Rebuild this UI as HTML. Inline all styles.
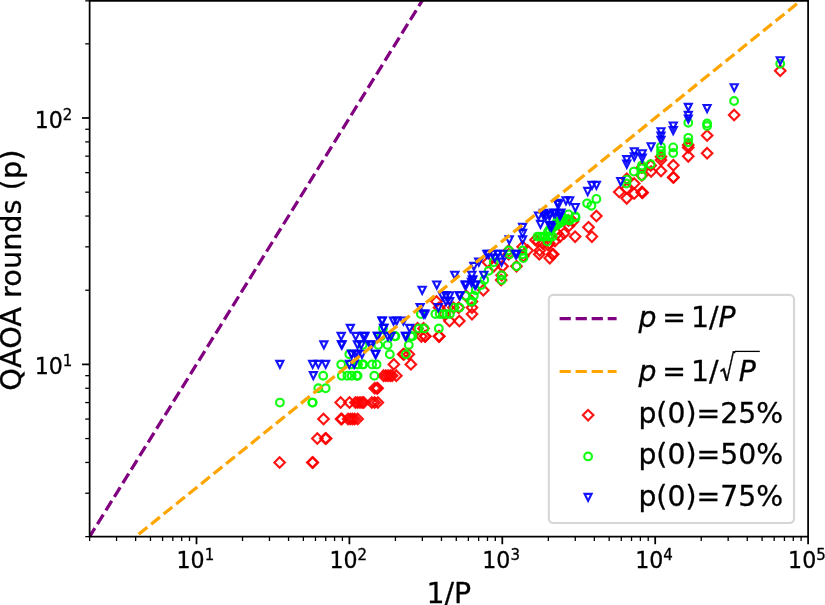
<!DOCTYPE html><html><head><meta charset="utf-8"><title>QAOA rounds vs 1/P</title>
<style>html,body{margin:0;padding:0;background:#fff;overflow:hidden}svg{display:block}text{font-family:"DejaVu Sans","Liberation Sans",sans-serif;fill:#000;stroke:#000;stroke-width:0.3px}.it{font-style:oblique}</style></head><body>
<svg width="825" height="605" viewBox="0 0 825 605">
<rect width="825" height="605" fill="#fff"/>
<defs><clipPath id="ax"><rect x="89.63" y="0.85" width="718.47" height="535.78"/></clipPath></defs>
<g clip-path="url(#ax)">
<g fill="none" stroke="#ff0000" stroke-opacity="0.92" stroke-width="2.15" stroke-linejoin="miter"><path d="M279.6 457.2L284.9 462.5L279.6 467.7L274.4 462.5Z"/><path d="M312.3 457.2L317.6 462.5L312.3 467.7L307.1 462.5Z"/><path d="M312.9 457.2L318.1 462.5L312.9 467.7L307.6 462.5Z"/><path d="M317.3 433.3L322.6 438.6L317.3 443.8L312.1 438.6Z"/><path d="M325.3 433.3L330.6 438.6L325.3 443.8L320.1 438.6Z"/><path d="M326.1 433.3L331.4 438.6L326.1 443.8L320.9 438.6Z"/><path d="M323.5 413.8L328.8 419.1L323.5 424.3L318.2 419.1Z"/><path d="M341.0 413.8L346.2 419.1L341.0 424.3L335.8 419.1Z"/><path d="M341.8 413.8L347.1 419.1L341.8 424.3L336.6 419.1Z"/><path d="M348.0 413.8L353.2 419.1L348.0 424.3L342.8 419.1Z"/><path d="M350.3 413.8L355.6 419.1L350.3 424.3L345.1 419.1Z"/><path d="M352.5 413.8L357.8 419.1L352.5 424.3L347.2 419.1Z"/><path d="M354.7 413.8L359.9 419.1L354.7 424.3L349.4 419.1Z"/><path d="M357.7 413.8L362.9 419.1L357.7 424.3L352.4 419.1Z"/><path d="M340.6 397.3L345.9 402.6L340.6 407.8L335.4 402.6Z"/><path d="M349.5 397.3L354.8 402.6L349.5 407.8L344.2 402.6Z"/><path d="M355.5 397.3L360.8 402.6L355.5 407.8L350.2 402.6Z"/><path d="M357.7 397.3L362.9 402.6L357.7 407.8L352.4 402.6Z"/><path d="M360.0 397.3L365.2 402.6L360.0 407.8L354.8 402.6Z"/><path d="M362.2 397.3L367.4 402.6L362.2 407.8L356.9 402.6Z"/><path d="M363.7 397.3L368.9 402.6L363.7 407.8L358.4 402.6Z"/><path d="M371.8 397.3L377.1 402.6L371.8 407.8L366.6 402.6Z"/><path d="M374.6 397.3L379.9 402.6L374.6 407.8L369.4 402.6Z"/><path d="M377.8 397.3L383.1 402.6L377.8 407.8L372.6 402.6Z"/><path d="M374.7 383.0L379.9 388.3L374.7 393.5L369.4 388.3Z"/><path d="M377.0 383.0L382.2 388.3L377.0 393.5L371.8 388.3Z"/><path d="M377.6 383.0L382.9 388.3L377.6 393.5L372.4 388.3Z"/><path d="M383.6 370.4L388.9 375.7L383.6 380.9L378.4 375.7Z"/><path d="M385.9 370.4L391.1 375.7L385.9 380.9L380.6 375.7Z"/><path d="M388.1 370.4L393.4 375.7L388.1 380.9L382.9 375.7Z"/><path d="M390.3 370.4L395.6 375.7L390.3 380.9L385.1 375.7Z"/><path d="M392.2 370.4L397.4 375.7L392.2 380.9L386.9 375.7Z"/><path d="M396.3 370.4L401.6 375.7L396.3 380.9L391.1 375.7Z"/><path d="M393.8 359.1L399.1 364.4L393.8 369.6L388.6 364.4Z"/><path d="M410.9 359.1L416.1 364.4L410.9 369.6L405.6 364.4Z"/><path d="M403.2 349.0L408.4 354.2L403.2 359.5L397.9 354.2Z"/><path d="M404.0 349.0L409.2 354.2L404.0 359.5L398.8 354.2Z"/><path d="M408.8 349.0L414.1 354.2L408.8 359.5L403.6 354.2Z"/><path d="M421.4 331.1L426.6 336.3L421.4 341.6L416.1 336.3Z"/><path d="M425.0 331.1L430.2 336.3L425.0 341.6L419.8 336.3Z"/><path d="M425.3 331.1L430.6 336.3L425.3 341.6L420.1 336.3Z"/><path d="M438.9 331.1L444.1 336.3L438.9 341.6L433.6 336.3Z"/><path d="M439.3 331.1L444.6 336.3L439.3 341.6L434.1 336.3Z"/><path d="M417.5 323.1L422.8 328.4L417.5 333.6L412.2 328.4Z"/><path d="M423.5 323.1L428.8 328.4L423.5 333.6L418.2 328.4Z"/><path d="M449.5 315.8L454.8 321.0L449.5 326.3L444.2 321.0Z"/><path d="M459.3 315.8L464.6 321.0L459.3 326.3L454.1 321.0Z"/><path d="M444.3 308.9L449.6 314.1L444.3 319.4L439.1 314.1Z"/><path d="M472.0 308.9L477.2 314.1L472.0 319.4L466.8 314.1Z"/><path d="M439.0 302.4L444.2 307.6L439.0 312.9L433.8 307.6Z"/><path d="M448.3 302.4L453.6 307.6L448.3 312.9L443.1 307.6Z"/><path d="M453.5 302.4L458.8 307.6L453.5 312.9L448.2 307.6Z"/><path d="M458.7 302.4L463.9 307.6L458.7 312.9L453.4 307.6Z"/><path d="M472.0 302.4L477.2 307.6L472.0 312.9L466.8 307.6Z"/><path d="M436.5 296.3L441.8 301.5L436.5 306.8L431.2 301.5Z"/><path d="M472.0 296.3L477.2 301.5L472.0 306.8L466.8 301.5Z"/><path d="M466.0 290.5L471.2 295.7L466.0 301.0L460.8 295.7Z"/><path d="M483.3 285.0L488.6 290.2L483.3 295.5L478.1 290.2Z"/><path d="M501.1 274.8L506.4 280.0L501.1 285.3L495.9 280.0Z"/><path d="M501.6 270.0L506.9 275.3L501.6 280.5L496.4 275.3Z"/><path d="M487.8 256.9L493.1 262.2L487.8 267.4L482.6 262.2Z"/><path d="M493.7 261.1L498.9 266.3L493.7 271.6L488.4 266.3Z"/><path d="M502.6 261.1L507.9 266.3L502.6 271.6L497.4 266.3Z"/><path d="M516.5 261.1L521.8 266.3L516.5 271.6L511.2 266.3Z"/><path d="M523.4 250.9L528.6 256.1L523.4 261.4L518.1 256.1Z"/><path d="M539.3 249.0L544.5 254.2L539.3 259.5L534.0 254.2Z"/><path d="M508.7 249.0L514.0 254.2L508.7 259.5L503.4 254.2Z"/><path d="M508.7 245.2L514.0 250.5L508.7 255.7L503.4 250.5Z"/><path d="M522.6 241.6L527.9 246.8L522.6 252.1L517.4 246.8Z"/><path d="M527.6 245.2L532.9 250.5L527.6 255.7L522.4 250.5Z"/><path d="M539.7 245.2L545.0 250.5L539.7 255.7L534.5 250.5Z"/><path d="M549.8 252.9L555.0 258.1L549.8 263.4L544.5 258.1Z"/><path d="M552.3 249.0L557.5 254.2L552.3 259.5L547.0 254.2Z"/><path d="M553.3 249.0L558.5 254.2L553.3 259.5L548.0 254.2Z"/><path d="M549.4 238.1L554.6 243.3L549.4 248.6L544.1 243.3Z"/><path d="M535.5 234.7L540.8 239.9L535.5 245.2L530.2 239.9Z"/><path d="M557.3 228.2L562.5 233.4L557.3 238.7L552.0 233.4Z"/><path d="M538.0 236.4L543.2 241.6L538.0 246.9L532.8 241.6Z"/><path d="M543.0 238.1L548.2 243.3L543.0 248.6L537.8 243.3Z"/><path d="M548.0 239.8L553.2 245.1L548.0 250.3L542.8 245.1Z"/><path d="M555.0 235.7L560.2 240.9L555.0 246.2L549.8 240.9Z"/><path d="M560.0 231.4L565.2 236.6L560.0 241.9L554.8 236.6Z"/><path d="M564.0 228.2L569.2 233.4L564.0 238.7L558.8 233.4Z"/><path d="M569.0 220.6L574.2 225.9L569.0 231.1L563.8 225.9Z"/><path d="M573.0 216.3L578.2 221.5L573.0 226.8L567.8 221.5Z"/><path d="M575.1 231.4L580.4 236.6L575.1 241.9L569.9 236.6Z"/><path d="M588.5 222.1L593.8 227.3L588.5 232.6L583.2 227.3Z"/><path d="M591.9 231.4L597.1 236.6L591.9 241.9L586.6 236.6Z"/><path d="M596.4 210.8L601.6 216.1L596.4 221.3L591.1 216.1Z"/><path d="M641.9 186.8L647.1 192.0L641.9 197.2L636.6 192.0Z"/><path d="M642.2 187.2L647.5 192.4L642.2 197.7L637.0 192.4Z"/><path d="M642.5 187.4L647.8 192.7L642.5 197.9L637.2 192.7Z"/><path d="M641.8 162.2L647.0 167.4L641.8 172.7L636.5 167.4Z"/><path d="M641.8 170.3L647.0 175.6L641.8 180.8L636.5 175.6Z"/><path d="M650.7 160.3L656.0 165.6L650.7 170.8L645.5 165.6Z"/><path d="M568.5 215.3L573.8 220.6L568.5 225.8L563.2 220.6Z"/><path d="M619.3 186.8L624.5 192.1L619.3 197.3L614.0 192.1Z"/><path d="M626.7 193.1L632.0 198.3L626.7 203.6L621.5 198.3Z"/><path d="M626.7 183.2L632.0 188.4L626.7 193.7L621.5 188.4Z"/><path d="M634.2 178.2L639.5 183.5L634.2 188.8L629.0 183.5Z"/><path d="M634.2 188.2L639.5 193.4L634.2 198.7L629.0 193.4Z"/><path d="M651.1 166.3L656.4 171.6L651.1 176.8L645.9 171.6Z"/><path d="M661.0 151.6L666.2 156.8L661.0 162.1L655.8 156.8Z"/><path d="M661.0 154.8L666.2 160.0L661.0 165.2L655.8 160.0Z"/><path d="M661.0 165.8L666.2 171.1L661.0 176.3L655.8 171.1Z"/><path d="M673.4 159.9L678.6 165.2L673.4 170.4L668.1 165.2Z"/><path d="M673.4 172.3L678.6 177.6L673.4 182.8L668.1 177.6Z"/><path d="M673.4 171.9L678.6 177.2L673.4 182.4L668.1 177.2Z"/><path d="M626.8 173.6L632.0 178.8L626.8 184.1L621.5 178.8Z"/><path d="M688.3 139.8L693.5 145.1L688.3 150.3L683.0 145.1Z"/><path d="M688.3 142.3L693.5 147.6L688.3 152.8L683.0 147.6Z"/><path d="M688.3 151.1L693.5 156.3L688.3 161.6L683.0 156.3Z"/><path d="M707.1 130.3L712.4 135.6L707.1 140.8L701.9 135.6Z"/><path d="M707.1 147.9L712.4 153.2L707.1 158.4L701.9 153.2Z"/><path d="M734.1 109.8L739.4 115.0L734.1 120.2L728.9 115.0Z"/><path d="M780.2 65.5L785.5 70.8L780.2 76.0L775.0 70.8Z"/></g>
<g fill="none" stroke="#00ff00" stroke-opacity="0.92" stroke-width="2.15" stroke-linejoin="miter"><circle cx="312.3" cy="402.6" r="3.85"/><circle cx="540.0" cy="236.6" r="3.85"/><circle cx="545.0" cy="236.6" r="3.85"/><circle cx="550.0" cy="236.6" r="3.85"/><circle cx="378.3" cy="344.9" r="3.85"/><circle cx="362.7" cy="344.9" r="3.85"/><circle cx="279.9" cy="402.6" r="3.85"/><circle cx="312.7" cy="402.6" r="3.85"/><circle cx="318.3" cy="388.3" r="3.85"/><circle cx="325.7" cy="388.3" r="3.85"/><circle cx="323.2" cy="375.7" r="3.85"/><circle cx="341.8" cy="375.7" r="3.85"/><circle cx="347.4" cy="375.7" r="3.85"/><circle cx="351.7" cy="375.7" r="3.85"/><circle cx="356.7" cy="375.7" r="3.85"/><circle cx="341.2" cy="364.4" r="3.85"/><circle cx="351.0" cy="364.4" r="3.85"/><circle cx="357.0" cy="364.4" r="3.85"/><circle cx="362.5" cy="364.4" r="3.85"/><circle cx="358.0" cy="364.4" r="3.85"/><circle cx="363.2" cy="364.4" r="3.85"/><circle cx="372.1" cy="364.4" r="3.85"/><circle cx="376.6" cy="364.4" r="3.85"/><circle cx="357.6" cy="375.7" r="3.85"/><circle cx="374.3" cy="375.7" r="3.85"/><circle cx="349.3" cy="354.2" r="3.85"/><circle cx="389.8" cy="354.2" r="3.85"/><circle cx="405.8" cy="354.2" r="3.85"/><circle cx="387.6" cy="344.9" r="3.85"/><circle cx="408.8" cy="344.9" r="3.85"/><circle cx="394.7" cy="336.3" r="3.85"/><circle cx="412.5" cy="336.3" r="3.85"/><circle cx="381.0" cy="336.3" r="3.85"/><circle cx="395.4" cy="336.3" r="3.85"/><circle cx="410.8" cy="336.3" r="3.85"/><circle cx="418.8" cy="328.4" r="3.85"/><circle cx="424.4" cy="328.4" r="3.85"/><circle cx="438.8" cy="328.4" r="3.85"/><circle cx="383.0" cy="328.4" r="3.85"/><circle cx="420.8" cy="314.1" r="3.85"/><circle cx="435.4" cy="314.1" r="3.85"/><circle cx="439.7" cy="314.1" r="3.85"/><circle cx="443.0" cy="314.1" r="3.85"/><circle cx="446.4" cy="314.1" r="3.85"/><circle cx="449.9" cy="314.1" r="3.85"/><circle cx="454.2" cy="307.6" r="3.85"/><circle cx="459.5" cy="307.6" r="3.85"/><circle cx="472.0" cy="301.5" r="3.85"/><circle cx="465.4" cy="295.7" r="3.85"/><circle cx="473.8" cy="295.7" r="3.85"/><circle cx="475.8" cy="290.2" r="3.85"/><circle cx="470.9" cy="301.5" r="3.85"/><circle cx="481.3" cy="285.0" r="3.85"/><circle cx="484.3" cy="280.0" r="3.85"/><circle cx="488.7" cy="270.7" r="3.85"/><circle cx="493.7" cy="262.2" r="3.85"/><circle cx="501.6" cy="275.3" r="3.85"/><circle cx="501.6" cy="280.0" r="3.85"/><circle cx="516.5" cy="266.3" r="3.85"/><circle cx="523.4" cy="258.1" r="3.85"/><circle cx="509.6" cy="254.2" r="3.85"/><circle cx="508.7" cy="250.5" r="3.85"/><circle cx="522.6" cy="250.5" r="3.85"/><circle cx="522.6" cy="254.2" r="3.85"/><circle cx="537.5" cy="236.6" r="3.85"/><circle cx="542.5" cy="236.6" r="3.85"/><circle cx="548.0" cy="236.6" r="3.85"/><circle cx="552.6" cy="236.6" r="3.85"/><circle cx="547.4" cy="241.6" r="3.85"/><circle cx="555.8" cy="224.4" r="3.85"/><circle cx="559.7" cy="221.5" r="3.85"/><circle cx="568.7" cy="220.1" r="3.85"/><circle cx="575.6" cy="217.4" r="3.85"/><circle cx="557.0" cy="221.5" r="3.85"/><circle cx="549.6" cy="229.6" r="3.85"/><circle cx="552.0" cy="228.1" r="3.85"/><circle cx="554.4" cy="226.5" r="3.85"/><circle cx="557.0" cy="224.8" r="3.85"/><circle cx="559.2" cy="223.5" r="3.85"/><circle cx="561.2" cy="222.1" r="3.85"/><circle cx="563.7" cy="220.5" r="3.85"/><circle cx="566.7" cy="218.9" r="3.85"/><circle cx="548.0" cy="231.8" r="3.85"/><circle cx="587.1" cy="203.3" r="3.85"/><circle cx="591.4" cy="205.8" r="3.85"/><circle cx="596.4" cy="198.9" r="3.85"/><circle cx="575.3" cy="216.3" r="3.85"/><circle cx="568.5" cy="214.4" r="3.85"/><circle cx="569.7" cy="220.6" r="3.85"/><circle cx="627.0" cy="179.6" r="3.85"/><circle cx="626.4" cy="183.5" r="3.85"/><circle cx="633.8" cy="171.6" r="3.85"/><circle cx="641.8" cy="165.6" r="3.85"/><circle cx="641.8" cy="168.4" r="3.85"/><circle cx="641.8" cy="176.0" r="3.85"/><circle cx="650.6" cy="164.2" r="3.85"/><circle cx="661.0" cy="146.8" r="3.85"/><circle cx="661.0" cy="150.8" r="3.85"/><circle cx="661.0" cy="154.8" r="3.85"/><circle cx="673.2" cy="147.4" r="3.85"/><circle cx="673.2" cy="153.0" r="3.85"/><circle cx="688.3" cy="137.8" r="3.85"/><circle cx="688.3" cy="142.3" r="3.85"/><circle cx="688.3" cy="122.8" r="3.85"/><circle cx="707.1" cy="123.5" r="3.85"/><circle cx="707.1" cy="125.9" r="3.85"/><circle cx="734.1" cy="101.0" r="3.85"/><circle cx="780.2" cy="63.8" r="3.85"/></g>
<g fill="none" stroke="#0000ff" stroke-opacity="0.92" stroke-width="2.15" stroke-linejoin="miter"><path d="M372.2 350.7L379.4 350.7L375.8 357.8Z"/><path d="M468.8 276.5L475.9 276.5L472.4 283.6Z"/><path d="M467.9 278.9L475.1 278.9L471.5 286.0Z"/><path d="M276.3 360.8L283.4 360.8L279.9 367.9Z"/><path d="M309.1 360.8L316.2 360.8L312.7 367.9Z"/><path d="M314.8 360.8L321.9 360.8L318.3 367.9Z"/><path d="M322.1 360.8L329.2 360.8L325.7 367.9Z"/><path d="M309.8 372.1L316.9 372.1L313.3 379.2Z"/><path d="M345.8 360.8L352.9 360.8L349.3 367.9Z"/><path d="M350.6 360.8L357.8 360.8L354.2 367.9Z"/><path d="M320.3 341.3L327.4 341.3L323.9 348.4Z"/><path d="M337.9 341.3L345.1 341.3L341.5 348.4Z"/><path d="M338.4 341.3L345.6 341.3L342.0 348.4Z"/><path d="M337.6 332.8L344.8 332.8L341.2 339.9Z"/><path d="M346.8 324.8L353.9 324.8L350.3 331.9Z"/><path d="M348.1 350.7L355.2 350.7L351.7 357.8Z"/><path d="M354.4 350.7L361.6 350.7L358.0 357.8Z"/><path d="M348.1 350.7L355.2 350.7L351.6 357.8Z"/><path d="M351.8 350.7L358.9 350.7L355.3 357.8Z"/><path d="M358.4 350.7L365.6 350.7L362.0 357.8Z"/><path d="M371.8 350.7L378.9 350.7L375.4 357.8Z"/><path d="M353.9 341.3L361.1 341.3L357.5 348.4Z"/><path d="M357.6 341.3L364.8 341.3L361.2 348.4Z"/><path d="M368.1 341.3L375.2 341.3L371.6 348.4Z"/><path d="M366.4 341.3L373.6 341.3L370.0 348.4Z"/><path d="M352.1 332.8L359.2 332.8L355.7 339.9Z"/><path d="M359.9 332.8L367.1 332.8L363.5 339.9Z"/><path d="M374.1 332.8L381.2 332.8L377.6 339.9Z"/><path d="M361.4 332.8L368.6 332.8L365.0 339.9Z"/><path d="M373.8 332.8L380.9 332.8L377.4 339.9Z"/><path d="M384.3 332.8L391.4 332.8L387.9 339.9Z"/><path d="M401.8 332.8L408.9 332.8L405.3 339.9Z"/><path d="M402.6 332.8L409.8 332.8L406.2 339.9Z"/><path d="M387.4 332.8L394.6 332.8L391.0 339.9Z"/><path d="M380.3 324.8L387.4 324.8L383.9 331.9Z"/><path d="M380.1 324.8L387.2 324.8L383.6 331.9Z"/><path d="M406.1 324.8L413.2 324.8L409.6 331.9Z"/><path d="M378.4 317.5L385.6 317.5L382.0 324.6Z"/><path d="M378.8 317.5L385.9 317.5L382.3 324.6Z"/><path d="M389.9 317.5L397.1 317.5L393.5 324.6Z"/><path d="M393.1 317.5L400.2 317.5L396.6 324.6Z"/><path d="M399.8 317.5L406.9 317.5L403.4 324.6Z"/><path d="M421.6 310.6L428.7 310.6L425.1 317.7Z"/><path d="M420.1 310.6L427.2 310.6L423.7 317.7Z"/><path d="M416.6 304.1L423.7 304.1L420.1 311.2Z"/><path d="M434.8 304.1L441.9 304.1L438.4 311.2Z"/><path d="M442.4 298.0L449.6 298.0L446.0 305.1Z"/><path d="M446.1 298.0L453.2 298.0L449.7 305.1Z"/><path d="M438.8 292.2L445.9 292.2L442.3 299.3Z"/><path d="M442.4 292.2L449.6 292.2L446.0 299.3Z"/><path d="M446.1 292.2L453.2 292.2L449.7 299.3Z"/><path d="M455.8 292.2L462.9 292.2L459.4 299.3Z"/><path d="M418.6 286.7L425.8 286.7L422.2 293.8Z"/><path d="M433.2 281.5L440.4 281.5L436.8 288.6Z"/><path d="M451.2 271.7L458.4 271.7L454.8 278.8Z"/><path d="M462.6 281.5L469.7 281.5L466.1 288.6Z"/><path d="M471.4 281.5L478.6 281.5L475.0 288.6Z"/><path d="M456.4 292.2L463.6 292.2L460.0 299.3Z"/><path d="M461.4 281.5L468.6 281.5L465.0 288.6Z"/><path d="M468.3 271.7L475.4 271.7L471.9 278.8Z"/><path d="M469.3 276.5L476.4 276.5L472.9 283.6Z"/><path d="M472.3 281.5L479.4 281.5L475.9 288.6Z"/><path d="M480.2 271.7L487.4 271.7L483.8 278.8Z"/><path d="M470.3 262.8L477.4 262.8L473.9 269.9Z"/><path d="M475.2 258.6L482.4 258.6L478.8 265.7Z"/><path d="M485.1 250.7L492.2 250.7L488.7 257.8Z"/><path d="M491.1 254.6L498.2 254.6L494.7 261.7Z"/><path d="M498.1 258.6L505.2 258.6L501.6 265.7Z"/><path d="M511.9 250.7L519.0 250.7L515.5 257.8Z"/><path d="M483.3 250.7L490.4 250.7L486.9 257.8Z"/><path d="M489.3 250.7L496.4 250.7L492.9 257.8Z"/><path d="M494.2 250.7L501.4 250.7L497.8 257.8Z"/><path d="M499.2 250.7L506.4 250.7L502.8 257.8Z"/><path d="M505.6 236.4L512.8 236.4L509.2 243.5Z"/><path d="M513.2 250.7L520.2 250.7L516.7 257.8Z"/><path d="M519.1 223.8L526.1 223.8L522.6 230.9Z"/><path d="M519.1 229.9L526.1 229.9L522.6 237.0Z"/><path d="M519.1 236.4L526.1 236.4L522.6 243.5Z"/><path d="M537.0 220.8L544.0 220.8L540.5 227.9Z"/><path d="M535.0 212.5L542.0 212.5L538.5 219.6Z"/><path d="M539.9 209.9L546.9 209.9L543.4 217.0Z"/><path d="M545.9 212.5L552.9 212.5L549.4 219.6Z"/><path d="M551.8 209.9L558.8 209.9L555.3 217.0Z"/><path d="M547.9 223.8L554.9 223.8L551.4 230.9Z"/><path d="M546.2 222.3L553.3 222.3L549.8 229.4Z"/><path d="M553.8 199.9L560.8 199.9L557.3 207.0Z"/><path d="M542.5 212.5L549.5 212.5L546.0 219.6Z"/><path d="M556.5 212.5L563.5 212.5L560.0 219.6Z"/><path d="M546.7 222.4L553.8 222.4L550.2 229.6Z"/><path d="M547.1 221.8L554.1 221.8L550.6 229.0Z"/><path d="M556.0 210.2L563.0 210.2L559.5 217.4Z"/><path d="M584.2 187.9L591.2 187.9L587.7 195.1Z"/><path d="M588.5 181.8L595.5 181.8L592.0 188.9Z"/><path d="M592.9 181.8L599.9 181.8L596.4 188.9Z"/><path d="M571.8 204.0L578.8 204.0L575.3 211.2Z"/><path d="M562.5 197.2L569.5 197.2L566.0 204.4Z"/><path d="M566.2 197.2L573.2 197.2L569.7 204.4Z"/><path d="M555.1 200.9L562.1 200.9L558.6 208.1Z"/><path d="M540.2 212.1L547.2 212.1L543.7 219.2Z"/><path d="M546.4 210.8L553.4 210.8L549.9 218.0Z"/><path d="M550.1 209.6L557.1 209.6L553.6 216.8Z"/><path d="M557.6 209.6L564.6 209.6L561.1 216.8Z"/><path d="M617.2 178.0L624.2 178.0L620.7 185.2Z"/><path d="M623.2 156.1L630.3 156.1L626.8 163.2Z"/><path d="M623.2 160.6L630.3 160.6L626.8 167.8Z"/><path d="M630.8 148.2L637.8 148.2L634.3 155.4Z"/><path d="M630.8 153.2L637.8 153.2L634.3 160.4Z"/><path d="M638.7 150.2L645.8 150.2L642.2 157.4Z"/><path d="M638.7 154.6L645.8 154.6L642.2 161.8Z"/><path d="M647.6 143.2L654.6 143.2L651.1 150.4Z"/><path d="M657.5 128.2L664.5 128.2L661.0 135.4Z"/><path d="M657.5 132.6L664.5 132.6L661.0 139.8Z"/><path d="M657.5 136.8L664.5 136.8L661.0 143.9Z"/><path d="M669.7 122.5L676.8 122.5L673.2 129.6Z"/><path d="M669.7 127.0L676.8 127.0L673.2 134.1Z"/><path d="M684.8 103.8L691.8 103.8L688.3 110.8Z"/><path d="M684.8 111.9L691.8 111.9L688.3 119.0Z"/><path d="M684.8 115.5L691.8 115.5L688.3 122.6Z"/><path d="M703.6 105.0L710.6 105.0L707.1 112.1Z"/><path d="M730.7 84.2L737.8 84.2L734.2 91.2Z"/><path d="M776.7 57.2L783.8 57.2L780.2 64.3Z"/></g>
<line x1="89.63" y1="536.63" x2="502.30" y2="-128.40" stroke="#800080" stroke-width="3.23" stroke-dasharray="11.20 4.84" stroke-dashoffset="1.3"/>
<line x1="138.66" y1="534.21" x2="808.10" y2="-5.20" stroke="#ffa500" stroke-width="3.23" stroke-dasharray="11.20 4.84" stroke-dashoffset="0"/>
</g>
<rect x="89.63" y="0.85" width="718.47" height="535.78" fill="none" stroke="#000" stroke-width="1.75"/>
<line x1="196.50" y1="536.63" x2="196.50" y2="544.23" stroke="#000" stroke-width="1.75"/><line x1="349.40" y1="536.63" x2="349.40" y2="544.23" stroke="#000" stroke-width="1.75"/><line x1="502.30" y1="536.63" x2="502.30" y2="544.23" stroke="#000" stroke-width="1.75"/><line x1="655.20" y1="536.63" x2="655.20" y2="544.23" stroke="#000" stroke-width="1.75"/><line x1="808.10" y1="536.63" x2="808.10" y2="544.23" stroke="#000" stroke-width="1.75"/><line x1="89.63" y1="536.63" x2="89.63" y2="541.03" stroke="#000" stroke-width="1.3"/><line x1="116.55" y1="536.63" x2="116.55" y2="541.03" stroke="#000" stroke-width="1.3"/><line x1="135.65" y1="536.63" x2="135.65" y2="541.03" stroke="#000" stroke-width="1.3"/><line x1="150.47" y1="536.63" x2="150.47" y2="541.03" stroke="#000" stroke-width="1.3"/><line x1="162.58" y1="536.63" x2="162.58" y2="541.03" stroke="#000" stroke-width="1.3"/><line x1="172.82" y1="536.63" x2="172.82" y2="541.03" stroke="#000" stroke-width="1.3"/><line x1="181.68" y1="536.63" x2="181.68" y2="541.03" stroke="#000" stroke-width="1.3"/><line x1="189.50" y1="536.63" x2="189.50" y2="541.03" stroke="#000" stroke-width="1.3"/><line x1="242.53" y1="536.63" x2="242.53" y2="541.03" stroke="#000" stroke-width="1.3"/><line x1="269.45" y1="536.63" x2="269.45" y2="541.03" stroke="#000" stroke-width="1.3"/><line x1="288.55" y1="536.63" x2="288.55" y2="541.03" stroke="#000" stroke-width="1.3"/><line x1="303.37" y1="536.63" x2="303.37" y2="541.03" stroke="#000" stroke-width="1.3"/><line x1="315.48" y1="536.63" x2="315.48" y2="541.03" stroke="#000" stroke-width="1.3"/><line x1="325.72" y1="536.63" x2="325.72" y2="541.03" stroke="#000" stroke-width="1.3"/><line x1="334.58" y1="536.63" x2="334.58" y2="541.03" stroke="#000" stroke-width="1.3"/><line x1="342.40" y1="536.63" x2="342.40" y2="541.03" stroke="#000" stroke-width="1.3"/><line x1="395.43" y1="536.63" x2="395.43" y2="541.03" stroke="#000" stroke-width="1.3"/><line x1="422.35" y1="536.63" x2="422.35" y2="541.03" stroke="#000" stroke-width="1.3"/><line x1="441.45" y1="536.63" x2="441.45" y2="541.03" stroke="#000" stroke-width="1.3"/><line x1="456.27" y1="536.63" x2="456.27" y2="541.03" stroke="#000" stroke-width="1.3"/><line x1="468.38" y1="536.63" x2="468.38" y2="541.03" stroke="#000" stroke-width="1.3"/><line x1="478.62" y1="536.63" x2="478.62" y2="541.03" stroke="#000" stroke-width="1.3"/><line x1="487.48" y1="536.63" x2="487.48" y2="541.03" stroke="#000" stroke-width="1.3"/><line x1="495.30" y1="536.63" x2="495.30" y2="541.03" stroke="#000" stroke-width="1.3"/><line x1="548.33" y1="536.63" x2="548.33" y2="541.03" stroke="#000" stroke-width="1.3"/><line x1="575.25" y1="536.63" x2="575.25" y2="541.03" stroke="#000" stroke-width="1.3"/><line x1="594.35" y1="536.63" x2="594.35" y2="541.03" stroke="#000" stroke-width="1.3"/><line x1="609.17" y1="536.63" x2="609.17" y2="541.03" stroke="#000" stroke-width="1.3"/><line x1="621.28" y1="536.63" x2="621.28" y2="541.03" stroke="#000" stroke-width="1.3"/><line x1="631.52" y1="536.63" x2="631.52" y2="541.03" stroke="#000" stroke-width="1.3"/><line x1="640.38" y1="536.63" x2="640.38" y2="541.03" stroke="#000" stroke-width="1.3"/><line x1="648.20" y1="536.63" x2="648.20" y2="541.03" stroke="#000" stroke-width="1.3"/><line x1="701.23" y1="536.63" x2="701.23" y2="541.03" stroke="#000" stroke-width="1.3"/><line x1="728.15" y1="536.63" x2="728.15" y2="541.03" stroke="#000" stroke-width="1.3"/><line x1="747.25" y1="536.63" x2="747.25" y2="541.03" stroke="#000" stroke-width="1.3"/><line x1="762.07" y1="536.63" x2="762.07" y2="541.03" stroke="#000" stroke-width="1.3"/><line x1="774.18" y1="536.63" x2="774.18" y2="541.03" stroke="#000" stroke-width="1.3"/><line x1="784.42" y1="536.63" x2="784.42" y2="541.03" stroke="#000" stroke-width="1.3"/><line x1="793.28" y1="536.63" x2="793.28" y2="541.03" stroke="#000" stroke-width="1.3"/><line x1="801.10" y1="536.63" x2="801.10" y2="541.03" stroke="#000" stroke-width="1.3"/><line x1="89.63" y1="364.40" x2="82.03" y2="364.40" stroke="#000" stroke-width="1.75"/><line x1="89.63" y1="118.00" x2="82.03" y2="118.00" stroke="#000" stroke-width="1.75"/><line x1="89.63" y1="536.63" x2="85.23" y2="536.63" stroke="#000" stroke-width="1.3"/><line x1="89.63" y1="493.24" x2="85.23" y2="493.24" stroke="#000" stroke-width="1.3"/><line x1="89.63" y1="462.45" x2="85.23" y2="462.45" stroke="#000" stroke-width="1.3"/><line x1="89.63" y1="438.57" x2="85.23" y2="438.57" stroke="#000" stroke-width="1.3"/><line x1="89.63" y1="419.06" x2="85.23" y2="419.06" stroke="#000" stroke-width="1.3"/><line x1="89.63" y1="402.57" x2="85.23" y2="402.57" stroke="#000" stroke-width="1.3"/><line x1="89.63" y1="388.28" x2="85.23" y2="388.28" stroke="#000" stroke-width="1.3"/><line x1="89.63" y1="375.67" x2="85.23" y2="375.67" stroke="#000" stroke-width="1.3"/><line x1="89.63" y1="290.23" x2="85.23" y2="290.23" stroke="#000" stroke-width="1.3"/><line x1="89.63" y1="246.84" x2="85.23" y2="246.84" stroke="#000" stroke-width="1.3"/><line x1="89.63" y1="216.05" x2="85.23" y2="216.05" stroke="#000" stroke-width="1.3"/><line x1="89.63" y1="192.17" x2="85.23" y2="192.17" stroke="#000" stroke-width="1.3"/><line x1="89.63" y1="172.66" x2="85.23" y2="172.66" stroke="#000" stroke-width="1.3"/><line x1="89.63" y1="156.17" x2="85.23" y2="156.17" stroke="#000" stroke-width="1.3"/><line x1="89.63" y1="141.88" x2="85.23" y2="141.88" stroke="#000" stroke-width="1.3"/><line x1="89.63" y1="129.27" x2="85.23" y2="129.27" stroke="#000" stroke-width="1.3"/><line x1="89.63" y1="43.83" x2="85.23" y2="43.83" stroke="#000" stroke-width="1.3"/><line x1="89.63" y1="0.85" x2="85.23" y2="0.85" stroke="#000" stroke-width="1.3"/>
<text x="176.50" y="568.40" font-size="22.1">10<tspan font-size="15.03" dy="-7.96">1</tspan></text>
<text x="329.40" y="568.40" font-size="22.1">10<tspan font-size="15.03" dy="-7.96">2</tspan></text>
<text x="482.30" y="568.40" font-size="22.1">10<tspan font-size="15.03" dy="-7.96">3</tspan></text>
<text x="635.20" y="568.40" font-size="22.1">10<tspan font-size="15.03" dy="-7.96">4</tspan></text>
<text x="788.10" y="568.40" font-size="22.1">10<tspan font-size="15.03" dy="-7.96">5</tspan></text>
<text x="34.70" y="373.90" font-size="22.1">10<tspan font-size="15.03" dy="-7.96">1</tspan></text>
<text x="34.70" y="127.50" font-size="22.1">10<tspan font-size="15.03" dy="-7.96">2</tspan></text>
<text x="448.8" y="603.2" font-size="28.4" text-anchor="middle">1/P</text>
<text transform="translate(21.1,270.1) rotate(-90)" font-size="28.78" text-anchor="middle">QAOA rounds (p)</text>
<rect x="548.8" y="294.9" width="245.20000000000005" height="228.10000000000002" rx="4.5" ry="4.5" fill="#fff" fill-opacity="0.8" stroke="#d6d6d6" stroke-width="2.1"/>
<line x1="559.60" y1="318.60" x2="616.60" y2="318.60" stroke="#800080" stroke-width="3.23" stroke-dasharray="11.20 4.84" stroke-dashoffset="0"/>
<line x1="559.60" y1="371.50" x2="616.60" y2="371.50" stroke="#ffa500" stroke-width="3.23" stroke-dasharray="11.20 4.84" stroke-dashoffset="0"/>
<text y="327.3" font-size="28.3"><tspan class="it" x="638.4">p</tspan><tspan x="662.3">=</tspan><tspan x="691.0">1/</tspan><tspan class="it" x="718.6">P</tspan></text>
<text y="381.0" font-size="28.3"><tspan class="it" x="638.4">p</tspan><tspan x="662.3">=</tspan><tspan x="691.0">1/</tspan><tspan class="it" x="738.7">P</tspan></text>
<text transform="translate(718.5,377.5) scale(0.827,1.21)" font-size="28" style="font-family:'DejaVu Math TeX Gyre','DejaVu Sans',sans-serif">√</text>
<line x1="735.0" y1="351.4" x2="759.8" y2="351.4" stroke="#000" stroke-width="1.3"/>
<g fill="none" stroke="#ff0000" stroke-opacity="0.92" stroke-width="2.15" stroke-linejoin="miter"><path d="M588.1 409.9L593.4 415.1L588.1 420.4L582.9 415.1Z"/></g>
<g fill="none" stroke="#00ff00" stroke-opacity="0.92" stroke-width="2.15" stroke-linejoin="miter"><circle cx="588.1" cy="456.4" r="3.85"/></g>
<g fill="none" stroke="#0000ff" stroke-opacity="0.92" stroke-width="2.15" stroke-linejoin="miter"><path d="M584.6 493.8L591.6 493.8L588.1 500.9Z"/></g>
<text x="638.4" y="423.1" font-size="28.3">p(0)=25%</text>
<text x="638.4" y="464.3" font-size="28.3">p(0)=50%</text>
<text x="638.4" y="505.6" font-size="28.3">p(0)=75%</text>
</svg></body></html>
